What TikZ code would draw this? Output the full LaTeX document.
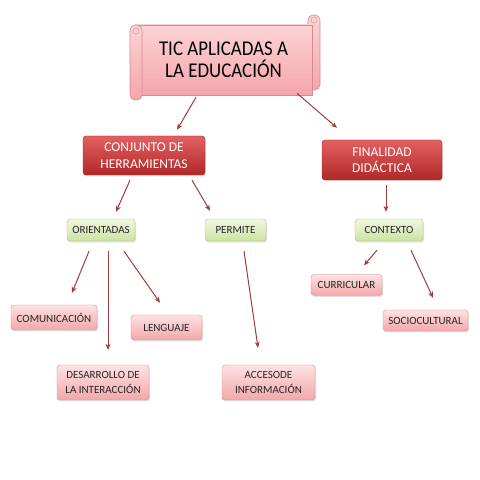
\documentclass[tikz,border=0pt]{standalone}
\usepackage{fontspec}
\setmainfont{Carlito}
\newfontfamily\titlefont[FakeStretch=0.9]{Carlito}
\usepackage{tikz}
\usetikzlibrary{arrows.meta,shadows}

\definecolor{arrowred}{HTML}{A33A3A}
\definecolor{scrolltop}{HTML}{FCD3D5}
\definecolor{scrollbot}{HTML}{F4A6AA}
\definecolor{scrollline}{HTML}{D58C91}
\definecolor{redtop}{HTML}{E46060}
\definecolor{redbot}{HTML}{B02828}
\definecolor{redline}{HTML}{9C2626}
\definecolor{greentop}{HTML}{F0F7DF}
\definecolor{greenbot}{HTML}{CCE2A2}
\definecolor{greenline}{HTML}{A5C474}
\definecolor{pinktop}{HTML}{FDE2E3}
\definecolor{pinkbot}{HTML}{F3A7AB}
\definecolor{pinkline}{HTML}{D9888D}

\begin{document}
\begin{tikzpicture}[x=1pt,y=1pt,
  box/.style={rectangle, rounded corners=3pt, inner sep=0pt, align=center,
    drop shadow={opacity=0.25, shadow xshift=1pt, shadow yshift=-1.5pt}},
  redbox/.style={box, top color=redtop, bottom color=redbot, draw=redline,
    text=white, font=\fontsize{13.5}{16.5}\selectfont},
  greenbox/.style={box, top color=greentop, bottom color=greenbot, draw=greenline,
    text=black!85, font=\fontsize{11}{15}\selectfont},
  pinkbox/.style={box, top color=pinktop, bottom color=pinkbot, draw=pinkline,
    text=black!85, font=\fontsize{11}{15}\selectfont},
  roll/.style={top color=scrolltop, bottom color=scrollbot, draw=scrollline, line width=0.6pt},
  arr/.style={draw=arrowred, line width=1pt, -{Stealth[length=6pt,width=5pt]}}]
\useasboundingbox (0,0) rectangle (480,480);

% scroll
\draw[roll, rounded corners=5pt] (308,390) rectangle (320,465);
\draw[scrollline, fill=scrolltop] (314,460) circle (3);
\node[roll, rectangle, inner sep=0pt, minimum width=177, minimum height=70,
  align=center, text=black, font=\titlefont\fontsize{21}{22}\selectfont,
  drop shadow={opacity=0.2, shadow xshift=1pt, shadow yshift=-1.5pt}]
  (title) at (223.5,420) {TIC APLICADAS A\\LA EDUCACIÓN};
\draw[roll, rounded corners=5pt] (130,380) rectangle (142,455);
\draw[scrollline, fill=scrolltop] (136,449) circle (3);

% level 1
\node[redbox, minimum width=122, minimum height=39] (conj) at (144,324.5) {CONJUNTO DE\\HERRAMIENTAS};
\node[redbox, minimum width=120, minimum height=40] (final) at (382,320) {FINALIDAD\\DIDÁCTICA};

% level 2
\node[greenbox, minimum width=68, minimum height=22] (orient) at (101,250) {ORIENTADAS};
\node[greenbox, minimum width=61, minimum height=22] (permite) at (235.5,250) {PERMITE};
\node[greenbox, minimum width=68, minimum height=22] (contexto) at (389,250) {CONTEXTO};

% level 3
\node[pinkbox, minimum width=86, minimum height=25] (comunic) at (54,162.5) {COMUNICACIÓN};
\node[pinkbox, minimum width=71, minimum height=25] (lenguaje) at (166.5,152.5) {LENGUAJE};
\node[pinkbox, minimum width=92, minimum height=35] (desarrollo) at (103,97.5) {DESARROLLO DE\\LA INTERACCIÓN};
\node[pinkbox, minimum width=93, minimum height=35] (acceso) at (268.5,97.5) {ACCESODE\\INFORMACIÓN};
\node[pinkbox, minimum width=71, minimum height=21] (curricular) at (346.5,195) {CURRICULAR};
\node[pinkbox, minimum width=85, minimum height=21] (socio) at (425.5,159.5) {SOCIOCULTURAL};

% arrows
\draw[arr] ([xshift=-27.5pt,yshift=-2pt]title.south) -- ([xshift=33pt,yshift=6pt]conj.north);
\draw[arr] ([xshift=73.5pt,yshift=2pt]title.south) -- ([xshift=-45pt,yshift=12pt]final.north);
\draw[arr] ([xshift=-14pt,yshift=-5pt]conj.south) -- ([xshift=15pt,yshift=7pt]orient.north);
\draw[arr] ([xshift=48pt,yshift=-5pt]conj.south) -- ([xshift=-25.5pt,yshift=8pt]permite.north);
\draw[arr] ([xshift=4pt,yshift=-5pt]final.south) -- ([xshift=-3pt,yshift=7pt]contexto.north);
\draw[arr] ([xshift=-12pt,yshift=-10pt]orient.south) -- ([xshift=18pt,yshift=12pt]comunic.north);
\draw[arr] ([xshift=7pt,yshift=-10pt]orient.south) -- ([xshift=5pt,yshift=15pt]desarrollo.north);
\draw[arr] ([xshift=23pt,yshift=-10pt]orient.south) -- ([xshift=-6.5pt,yshift=12pt]lenguaje.north);
\draw[arr] ([xshift=8.5pt,yshift=-10pt]permite.south) -- ([xshift=-10.5pt,yshift=17pt]acceso.north);
\draw[arr] ([xshift=-12pt,yshift=-9pt]contexto.south) -- ([xshift=17.5pt,yshift=9pt]curricular.north);
\draw[arr] ([xshift=22pt,yshift=-9pt]contexto.south) -- ([xshift=7.5pt,yshift=12pt]socio.north);
\end{tikzpicture}
\end{document}
